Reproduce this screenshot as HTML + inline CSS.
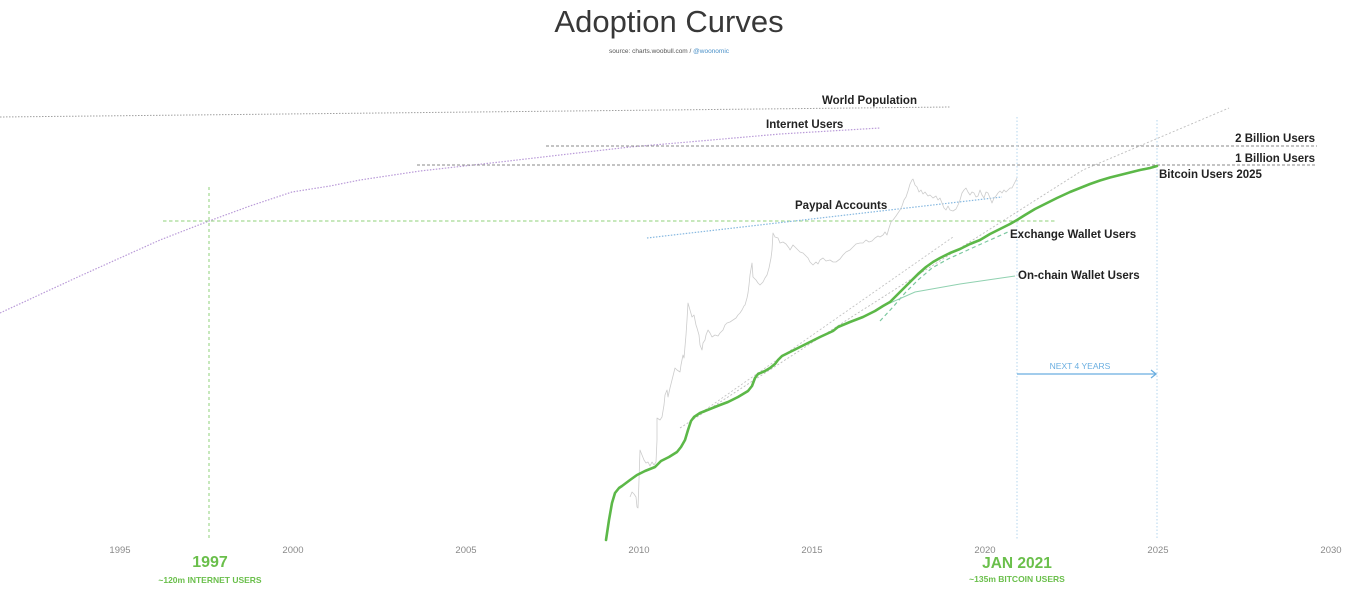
<!DOCTYPE html>
<html><head><meta charset="utf-8"><style>
html,body{margin:0;padding:0;background:#fff;}
svg{display:block;}
text{font-family:"Liberation Sans",sans-serif;}
</style></head><body>
<svg width="1366" height="591" viewBox="0 0 1366 591" xmlns="http://www.w3.org/2000/svg">
<rect width="1366" height="591" fill="#fff"/>
<!-- title -->
<text x="669" y="32" text-anchor="middle" font-size="31" font-weight="300" fill="#383838">Adoption Curves</text>
<text x="669" y="53" text-anchor="middle" font-size="6.5" fill="#555">source: charts.woobull.com / <tspan fill="#4a90c8">@woonomic</tspan></text>

<!-- world population -->
<line x1="0" y1="117" x2="950" y2="107" stroke="#a0a0a0" stroke-width="1" stroke-dasharray="1.5 1.5"/>
<text x="822" y="104" font-size="11.5" font-weight="bold" fill="#222">World Population</text>

<!-- internet users -->
<polyline fill="none" stroke="#b99ad8" stroke-width="1.2" stroke-dasharray="1.5 1.5" points="0,313 80,276 160,240 209,221 250,206 292,192 330,186 360,180 420,171 500,162 560,155 630,147 700,141 780,134 880,128"/>
<text x="766" y="128" font-size="11.5" font-weight="bold" fill="#222">Internet Users</text>

<!-- 2B / 1B lines -->
<line x1="546" y1="146" x2="1317" y2="146" stroke="#8a8a8a" stroke-width="0.9" stroke-dasharray="3 2"/>
<line x1="417" y1="165" x2="1317" y2="165" stroke="#8a8a8a" stroke-width="0.9" stroke-dasharray="3 2"/>
<text x="1315" y="142" text-anchor="end" font-size="11.5" font-weight="bold" fill="#222">2 Billion Users</text>
<text x="1315" y="162" text-anchor="end" font-size="11.5" font-weight="bold" fill="#222">1 Billion Users</text>

<!-- vertical lines -->
<line x1="209" y1="187" x2="209" y2="540" stroke="#8fd27a" stroke-width="1" stroke-dasharray="3 3"/>
<line x1="1017" y1="117" x2="1017" y2="540" stroke="#b5d6ee" stroke-width="1" stroke-dasharray="1.5 2"/>
<line x1="1157" y1="120" x2="1157" y2="540" stroke="#b5d6ee" stroke-width="1" stroke-dasharray="1.5 2"/>

<!-- green horizontal -->
<line x1="163" y1="221" x2="1057" y2="221" stroke="#8fd27a" stroke-width="1" stroke-dasharray="3.5 2.5"/>

<!-- trend dotted lines -->
<polyline fill="none" stroke="#bdbdbd" stroke-width="0.9" stroke-dasharray="2 2" points="680,428 850,318 1083,170 1229,108"/>
<line x1="705" y1="410" x2="953" y2="237" stroke="#c4c4c4" stroke-width="0.9" stroke-dasharray="2 2"/>
<line x1="886" y1="305" x2="922" y2="272" stroke="#cfcfcf" stroke-width="0.9"/>

<!-- paypal -->
<line x1="647" y1="238" x2="1002" y2="197" stroke="#86b8e0" stroke-width="1.2" stroke-dasharray="1.5 1.5"/>
<text x="795" y="209" font-size="11.5" font-weight="bold" fill="#222">Paypal Accounts</text>

<!-- bitcoin price -->
<polyline fill="none" stroke="#cccccc" stroke-width="0.8" stroke-linejoin="round" points="630,497 632,492 634,494 636,497 637,507 638,508 639,480 640,450 642,455 644,460 646,463 648,462 650,466 652,462 654,465 656,462 657,440 657,418 660,420 662,417 664,405 665,395 667,390 668,397 670,388 672,380 674,372 675,368 677,370 680,372 681,365 683,355 684,358 686,335 687,320 688,303 690,310 692,317 694,315 696,325 697,328 699,335 700,345 702,350 703,343 705,340 706,335 708,330 710,333 712,337 715,335 718,336 720,333 723,330 725,325 727,323 730,322 733,320 736,318 738,315 740,313 742,310 744,306 745,305 747,298 748,293 749,285 750,275 752,263 753,277 756,280 758,283 760,285 763,282 765,278 767,275 769,268 771,258 772,250 773,233 775,237 778,238 780,243 783,242 786,244 789,248 790,250 793,245 796,248 800,252 803,253 806,256 808,258 810,262 813,265 816,262 818,264 820,260 823,258 826,261 830,260 833,262 836,262 840,259 843,255 846,252 850,250 853,247 856,244 860,243 863,243 866,240 869,242 872,241 875,238 878,236 880,237 883,235 885,232 887,235 889,228 891,222 893,220 896,216 898,213 900,210 902,206 904,200 906,197 908,191 910,184 912,180 913,179 915,185 917,187 919,192 921,190 923,194 925,192 928,196 930,195 933,198 936,196 938,200 940,198 942,203 944,208 946,210 948,206 950,210 953,211 956,209 958,205 960,200 962,193 964,190 966,188 968,192 970,195 972,192 974,193 976,197 978,196 980,190 982,195 984,198 986,192 988,193 990,198 992,203 994,198 996,196 998,193 1000,191 1002,193 1004,190 1006,192 1008,190 1010,188 1012,188 1014,184 1017,178"/>

<!-- exchange wallet users -->
<polyline fill="none" stroke="#7cc8a0" stroke-width="1.2" stroke-dasharray="4 3" points="880,321 893,307 905,293 918,280 932,268 948,259 970,249 990,240 1008,232"/>
<text x="1010" y="238" font-size="11.5" font-weight="bold" fill="#222">Exchange Wallet Users</text>

<!-- on-chain -->
<polyline fill="none" stroke="#90d1b0" stroke-width="1" points="890,303 915,292 960,284 1015,276"/>
<text x="1018" y="279" font-size="11.5" font-weight="bold" fill="#222">On-chain Wallet Users</text>

<!-- bitcoin users main curve -->
<polyline fill="none" stroke="#5cb848" stroke-width="2.6" stroke-linejoin="round" stroke-linecap="round" points="606,540 609,520 612,503 615,493 619,488 622,486 630,480 637,475 645,471 655,467 658,464 661,461 669,457 677,452 681,447 685,440 688,430 691,421 694,417 700,413 710,409 720,405 728,402 738,397 748,391 752,386 755,378 758,374 765,371 770,368 775,364 778,360 782,356 790,352 800,347 810,342 820,337 833,331 838,327 850,322 863,317 875,311 883,306 890,302 896,296 902,290 910,282 918,274 926,267 933,262 940,258 950,253 960,249 970,244 980,240 990,234 1000,229 1010,224 1017,220 1025,215 1035,209 1045,204 1057,198 1070,192 1080,188 1090,184 1100,180.5 1110,177.5 1120,175 1130,172.5 1140,170 1150,168 1157,166"/>
<text x="1159" y="178" font-size="11.5" font-weight="bold" fill="#222">Bitcoin Users 2025</text>

<!-- next 4 years -->
<text x="1080" y="369" text-anchor="middle" font-size="8.5" fill="#6aaee0">NEXT 4 YEARS</text>
<line x1="1017" y1="374" x2="1156" y2="374" stroke="#6aaee0" stroke-width="1.3"/>
<polyline fill="none" stroke="#6aaee0" stroke-width="1.3" points="1151,370 1156,374 1151,378"/>

<!-- x axis ticks -->
<g font-size="9.5" fill="#8a8a8a" text-anchor="middle">
<text x="120" y="553">1995</text>
<text x="293" y="553">2000</text>
<text x="466" y="553">2005</text>
<text x="639" y="553">2010</text>
<text x="812" y="553">2015</text>
<text x="985" y="553">2020</text>
<text x="1158" y="553">2025</text>
<text x="1331" y="553">2030</text>
</g>

<!-- bottom annotations -->
<text x="210" y="567" text-anchor="middle" font-size="16" font-weight="bold" fill="#6abf4b">1997</text>
<text x="210" y="583" text-anchor="middle" font-size="8.5" font-weight="bold" fill="#6abf4b">~120m INTERNET USERS</text>
<text x="1017" y="568" text-anchor="middle" font-size="15.5" font-weight="bold" fill="#6abf4b">JAN 2021</text>
<text x="1017" y="582" text-anchor="middle" font-size="8.5" font-weight="bold" fill="#6abf4b">~135m BITCOIN USERS</text>
</svg>
</body></html>
